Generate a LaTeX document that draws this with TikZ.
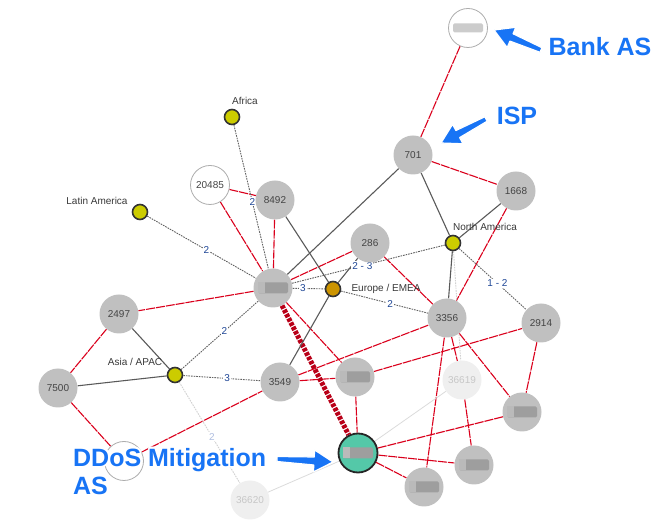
\documentclass[tikz,border=0pt]{standalone}
\usepackage{fontspec}
\setmainfont{Liberation Sans}
\usepackage{contour}
\contourlength{1.8pt}
\usetikzlibrary{calc,arrows.meta}
\definecolor{redE}{RGB}{218,0,28}
\definecolor{nodeG}{RGB}{192,192,192}
\definecolor{txtG}{RGB}{68,68,68}
\definecolor{elabB}{RGB}{30,70,150}
\definecolor{elabL}{RGB}{175,190,225}
\definecolor{yel}{RGB}{204,204,0}
\definecolor{ora}{RGB}{204,148,0}
\definecolor{ddosG}{RGB}{84,200,168}
\definecolor{callB}{RGB}{24,116,245}
\definecolor{lightN}{RGB}{239,239,239}
\pgfdeclarelayer{bg}
\pgfsetlayers{bg,main}
\newcommand{\calloutarrow}[2]{%
  \path ($(#2)!19pt!(#1)$) coordinate (cahb);
  \filldraw[callB, draw=white, line width=1.2pt, line join=round]
    ($(#1)!2.5pt!90:(#2)$) -- ($(cahb)!4pt!90:(#2)$) -- ($(cahb)!11pt!90:(#2)$)
    -- (#2) -- ($(cahb)!11pt!-90:(#2)$) -- ($(cahb)!4pt!-90:(#2)$)
    -- ($(#1)!2.5pt!-90:(#2)$) -- cycle;}
\begin{document}
\begin{tikzpicture}[x=1pt,y=-1pt,
  as/.style={circle, fill=nodeG, minimum size=39pt, inner sep=0pt,
    font=\fontsize{10}{12}\selectfont, text=txtG},
  wnode/.style={as, fill=white, draw=black!32, line width=0.8pt},
  faint/.style={as, fill=lightN, text=black!22},
  ddosnode/.style={as, fill=ddosG, draw=black!85, line width=1.8pt},
  region/.style={circle, fill=yel, draw=black!80, line width=1.6pt,
    minimum size=15pt, inner sep=0pt},
  blur/.style={path picture={\fill[black!38, rounded corners=1.5pt]
    ([xshift=-15pt,yshift=-5.5pt]path picture bounding box.center) rectangle
    ([xshift=15pt,yshift=5.5pt]path picture bounding box.center);
    \fill[black!27]
    ([xshift=-15pt,yshift=-5.5pt]path picture bounding box.center) rectangle
    ([xshift=-8pt,yshift=5.5pt]path picture bounding box.center);}},
  blurlight/.style={path picture={\fill[black!20, rounded corners=1.5pt]
    ([xshift=-15pt,yshift=-4.5pt]path picture bounding box.center) rectangle
    ([xshift=15pt,yshift=4.5pt]path picture bounding box.center);}},
  rlab/.style={font=\fontsize{10}{12}\selectfont, text=black!78, inner sep=1pt},
  elab/.style={font=\fontsize{10}{12}\selectfont, text=elabB, fill=white, inner sep=1pt},
  elabl/.style={elab, text=elabL},
  redge/.style={draw=redE, line width=1.1pt, dash pattern=on 9pt off 1pt},
  bigred/.style={draw=redE!85!black, line width=5pt, dash pattern=on 3.5pt off 1.3pt},
  sedge/.style={draw=black!65, line width=1.1pt},
  dedge/.style={draw=black!62, line width=0.9pt, dash pattern=on 1.6pt off 1pt},
  ldedge/.style={draw=black!18, line width=0.9pt, dash pattern=on 1.6pt off 1pt},
  ledge/.style={draw=black!14, line width=0.8pt},
  callout/.style={font=\fontsize{25}{28}\selectfont\bfseries, text=callB, inner sep=0pt}
]
\useasboundingbox (0,0) rectangle (665,529);

% nodes
\node[wnode, blurlight] (bank) at (468,28) {};
\node[as] (n701) at (413,155) {701};
\node[as] (n1668) at (516,191) {1668};
\node[region] (na) at (453,243) {};
\node[as] (n286) at (370,243) {286};
\node[as] (n8492) at (275,200) {8492};
\node[wnode] (n20485) at (210,185) {20485};
\node[region] (africa) at (232,117) {};
\node[region] (latam) at (140,212) {};
\node[as, blur] (hub) at (273,288) {};
\node[region, fill=ora] (emea) at (333,289) {};
\node[as] (n3356) at (447,318) {3356};
\node[as] (n2914) at (541,323) {2914};
\node[as] (n2497) at (119,314) {2497};
\node[region] (apac) at (175,375) {};
\node[as] (n7500) at (58,388) {7500};
\node[as] (n3549) at (280,382) {3549};
\node[as, blur] (b1) at (355,377) {};
\node[faint] (n36619) at (462,380) {36619};
\node[as, blur] (b2) at (522,412) {};
\node[ddosnode, blur] (ddos) at (358,453) {};
\node[as, blur] (b3) at (474,465) {};
\node[as, blur] (b4) at (424,487) {};
\node[faint] (n36620) at (250,500) {36620};
\node[wnode] (wc) at (124,461) {};

% region labels
\node[rlab] (africaL) at (245,101) {Africa};
\node[rlab] (latamL) at (97,201) {Latin America};
\node[rlab] (naL) at (485,227) {North America};
\node[rlab] (emeaL) at (386,289) {Europe / EMEA};
\node[rlab] (apacL) at (135,362) {Asia / APAC};

\begin{pgfonlayer}{bg}
% red links
\foreach \a/\b in {bank/n701, n701/n1668, n1668/n3356, n20485/n8492, n20485/hub,
  n8492/hub, hub/n286, hub/n2497, n286/n3356, hub/b1, n3549/n3356, wc/n3549,
  n3549/b1, b1/n2914, b1/ddos, n3356/n36619, n3356/b4, n3356/b2, n2914/b2,
  n36619/b3, ddos/b2, ddos/b3, ddos/b4, n2497/n7500, n7500/wc}
  \draw[redge] (\a) -- (\b);
\draw[bigred] (hub) -- (ddos);
% solid grey links
\foreach \a/\b in {n701/hub, n701/na, n1668/na, na/n3356, n8492/emea, emea/n286,
  emea/n3549, n2497/apac, n7500/apac}
  \draw[sedge] (\a) -- (\b);
% dotted links with hop counts
\draw[dedge] (africa) -- node[elab, pos=0.535] {2} (hub);
\draw[dedge] (latam) -- node[elab, pos=0.545] {2} (hub);
\draw[dedge] (hub) -- node[elab, pos=0.32] {3} (emea);
\draw[dedge] (hub) -- node[elab, pos=0.46] {2 - 3} (na);
\draw[dedge] (emea) -- node[elab, pos=0.565] {2} (n3356);
\draw[dedge] (na) -- node[elab, pos=0.57] {1 - 2} (n2914);
\draw[dedge] (apac) -- node[elab, pos=0.56] {2} (hub);
\draw[dedge] (apac) -- node[elab, pos=0.57] {3} (n3549);
\draw[ldedge] (na) -- (n36619);
\draw[ldedge] (apac) -- node[elabl, pos=0.54] {2} (n36620);
\draw[ledge] (n36620) -- (ddos);
\draw[ledge] (ddos) -- (n36619);
\end{pgfonlayer}

% callouts
\node[callout] (bankL) at (600,47) {\contour{white}{Bank AS}};
\node[callout] (ispL) at (517,117) {\contour{white}{ISP}};
\node[callout, align=left, anchor=north west] (ddosL) at (73,448)
  {\contour{white}{DDoS Mitigation}\\\contour{white}{AS}};
\coordinate (bankT) at (541,50);
\coordinate (bankP) at (494,30);
\coordinate (ispT) at (486,119);
\coordinate (ispP) at (441,143);
\coordinate (ddosT) at (277,459);
\coordinate (ddosP) at (333,462);
\calloutarrow{bankT}{bankP}
\calloutarrow{ispT}{ispP}
\calloutarrow{ddosT}{ddosP}
\end{tikzpicture}
\end{document}
